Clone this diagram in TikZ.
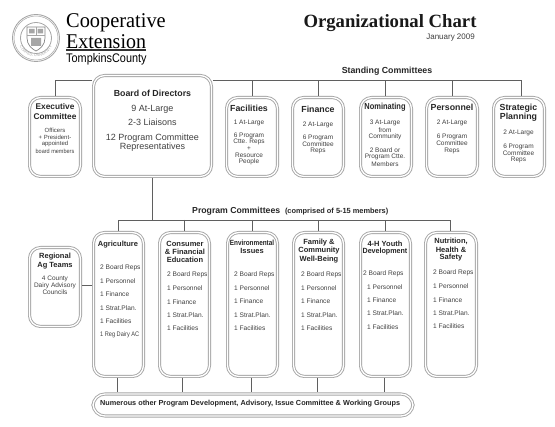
\documentclass[tikz,border=0pt]{standalone}
\usepackage{fontspec}
\usepackage{graphicx}
\setmainfont{Liberation Sans}
\newfontfamily\serifx{Liberation Serif}
\usetikzlibrary{decorations.text}
\definecolor{ln}{HTML}{5F5F5F}
\definecolor{bd}{HTML}{A6A6A6}
\definecolor{bodyc}{HTML}{404040}
\newcounter{tn}
\newcommand{\fs}[1]{\fontsize{#1}{#1}\selectfont}
\newcommand{\nar}[2]{\scalebox{#1}[1]{#2}}
\tikzset{
  cbox/.style={draw=bd,line width=0.9pt,double=white,double distance=1.3pt,rounded corners=#1,fill=white,inner sep=0pt,outer sep=1.55pt},
  cbox/.default=11pt,
  link/.style={draw=ln,line width=0.9pt},
  head/.style={font=\fs{8.8}\bfseries,text=black!85,inner sep=0pt},
  phead/.style={font=\fs{7.5}\bfseries,text=black!85,inner sep=0pt},
  sm/.style={font=\fs{6.5},text=bodyc,inner sep=0pt},
  smx/.style={font=\fs{6},text=bodyc,inner sep=0pt},
  li/.style={font=\fs{6.6},text=bodyc,inner sep=0pt,anchor=west},
  big/.style={font=\fs{9},text=bodyc,inner sep=0pt},
}
\newcommand{\T}[4]{\stepcounter{tn}\node[#3,name=t\arabic{tn}] at (#1,#2) {#4};}
\newcommand{\BOX}[5]{\node[cbox,minimum width=#4-#2-3.1,minimum height=#5-#3-3.1,name=#1] at ({(#2+#4)/2},{(#3+#5)/2}) {};}
\newcommand{\LI}[3]{\T{#1}{#2}{li}{#3}\T{#1}{#2+13.4}{li}{1 Personnel}\T{#1}{#2+26.8}{li}{1 Finance}\T{#1}{#2+40.2}{li}{1 Strat.Plan.}\T{#1}{#2+53.6}{li}{1 Facilities}}
\begin{document}
\begin{tikzpicture}[x=1pt,y=-1pt]
\useasboundingbox (0,0) rectangle (555,427);
\fill[white] (0,0) rectangle (555,427);
% seal
\node[circle,draw=bd,line width=0.9pt,minimum size=47pt,inner sep=0pt,name=seal] at (36,38) {};
\draw[bd,line width=0.5pt] (36,38) circle (22);
\draw[bd,line width=0.8pt] (36,38) circle (15.5);
\draw[bd!80!black,line width=0.7pt] (27,27) -- (45,27) -- (45,38) .. controls (45,45) and (40,49) .. (36,51) .. controls (32,49) and (27,45) .. (27,38) -- cycle;
\draw[bd,line width=0.5pt] (36,27) -- (36,35) (27,35) -- (45,35);
\fill[bd] (29,29) rectangle (34.5,33.5) (37.5,29) rectangle (43,33.5) (31,38) rectangle (41,46);
\path[decorate,decoration={text along path,text={|\fs{3.6}\color{bd}|CORNELL UNIVERSITY},text align=center}] (17.5,38) arc (180:360:18.5 and -18.5);
% logo text
\T{66}{22.5}{anchor=west,inner sep=0pt,text=black,font=\serifx\fs{21}}{\nar{.97}{Cooperative}}
\T{66}{41.5}{anchor=west,inner sep=0pt,text=black,font=\serifx\fs{21}}{\nar{.95}{Extension}}
\fill[black!80] (66,49.5) rectangle (146,51);
\T{66}{59}{anchor=west,inner sep=0pt,text=black,font=\fs{12.5}}{\nar{.87}{TompkinsCounty}}
\T{390}{23}{inner sep=0pt,text=black!90,font=\serifx\bfseries\fs{18.7}}{Organizational Chart}
\T{475}{37.5}{anchor=east,inner sep=0pt,text=bodyc,font=\fs{8}}{January 2009}
% boxes
\BOX{board}{92}{74}{213}{178}
\BOX{exec}{28}{96}{82}{178}
\BOX{fac}{225}{96}{279}{178}
\BOX{fin}{291}{96}{345}{178}
\BOX{nom}{359}{96}{413}{178}
\BOX{per}{425}{96}{479}{178}
\BOX{str}{492}{96}{546}{178}
\BOX{agr}{92}{231}{145}{378}
\BOX{con}{158}{231}{211}{378}
\BOX{env}{226}{231}{279}{378}
\BOX{fam}{292}{231}{345}{378}
\BOX{yth}{359}{231}{412}{378}
\BOX{nut}{424}{231}{478}{378}
\BOX{reg}{28}{246}{82}{328}
\node[cbox=12pt,minimum width=320pt,minimum height=22pt,name=num] at (253,405) {};
% connectors
\coordinate (tl) at (exec.north |- 0,80.5);
\coordinate (tr) at (521,80.5);
\coordinate (pj) at (board.south |- 0,220);
\coordinate (pl) at (agr.north |- 0,220);
\coordinate (pr) at (450,220);
\draw[link] (exec.north) -- (tl) -- (board.north west |- tl);
\draw[link] (board.north east |- tl) -- (tr) -- (521,96);
\foreach \x in {252,318,385,452} \draw[link] (\x,80.5) -- (\x,96);
\draw[link] (board.south) -- (pj);
\draw[link] (agr.north) -- (pl) -- (pr) -- (450,231);
\foreach \x in {184.5,252,318,385} \draw[link] (\x,220) -- (\x,231);
\draw[link] (reg.east |- 0,285) -- (agr.west |- 0,285);
\foreach \x in {117,182,251,317,384} \draw[link] (\x,378) -- (\x,392.5);
% board text
\T{152.5}{93}{font=\fs{8.8}\bfseries,text=black!85,inner sep=0pt}{Board of Directors}
\T{152.5}{109}{big}{9 At-Large}
\T{152.5}{122}{big}{2-3 Liaisons}
\T{152.5}{138}{big}{12 Program Committee}
\T{152.5}{147.5}{big}{Representatives}
\T{55}{107}{font=\fs{8.3}\bfseries,text=black!85,inner sep=0pt}{Executive}
\T{55}{116.5}{font=\fs{8.3}\bfseries,text=black!85,inner sep=0pt}{Committee}
\T{55}{130.5}{smx}{Officers}
\T{55}{137.5}{smx}{+ President-}
\T{55}{144}{smx}{appointed}
\T{55}{151}{smx}{\nar{.92}{board members}}
\T{249}{108}{head}{Facilities}
\T{249}{122.5}{sm}{1 At-Large}
\T{249}{135.5}{sm}{6 Program}
\T{249}{142}{sm}{Ctte. Reps}
\T{249}{148.5}{sm}{+}
\T{249}{155.5}{sm}{Resource}
\T{249}{162}{sm}{People}
\T{318}{109}{head}{Finance}
\T{318}{124.5}{sm}{2 At-Large}
\T{318}{138}{sm}{6 Program}
\T{318}{144.5}{sm}{Committee}
\T{318}{151}{sm}{Reps}
\T{385}{107.5}{head}{\nar{.85}{Nominating}}
\T{385}{123}{sm}{3 At-Large}
\T{385}{130}{sm}{from}
\T{385}{137}{sm}{Community}
\T{385}{150.5}{sm}{2 Board or}
\T{385}{157}{sm}{Program Ctte.}
\T{385}{164}{sm}{Members}
\T{452}{107.5}{head}{Personnel}
\T{452}{123}{sm}{2 At-Large}
\T{452}{137}{sm}{6 Program}
\T{452}{143.5}{sm}{Committee}
\T{452}{150.5}{sm}{Reps}
\T{518.5}{108}{head}{Strategic}
\T{518.5}{117}{head}{Planning}
\T{518.5}{132.5}{sm}{2 At-Large}
\T{518.5}{146.5}{sm}{6 Program}
\T{518.5}{153}{sm}{Committee}
\T{518.5}{160}{sm}{Reps}
\T{387}{71}{font=\fs{8.8}\bfseries,text=black!85,inner sep=0pt}{Standing Committees}
\T{192}{211}{anchor=west,font=\fs{8.7}\bfseries,text=black!85,inner sep=0pt}{Program Committees\ \ {\fs{7.4}(comprised of 5-15 members)}}
% program committees
\T{118}{244.5}{phead}{Agriculture}
\LI{100}{267.5}{2 Board Reps}
\T{100}{334.5}{li}{\nar{.85}{1 Reg Dairy AC}}
\T{185}{243.5}{phead}{Consumer}
\T{185}{252}{phead}{\& Financial}
\T{185}{260}{phead}{Education}
\LI{167}{275}{2 Board Reps}
\T{252}{243}{phead}{\nar{.85}{Environmental}}
\T{252}{251}{phead}{Issues}
\LI{234}{274.5}{2 Board Reps}
\T{319}{243}{phead}{Family \&}
\T{319}{251}{phead}{Community}
\T{319}{259.5}{phead}{Well-Being}
\LI{301}{274.5}{2 Board Reps}
\T{385}{244}{phead}{4-H Youth}
\T{385}{252}{phead}{\nar{.95}{Development}}
\T{363}{273.5}{li}{2 Board Reps}
\T{367}{287}{li}{1 Personnel}
\T{367}{300.3}{li}{1 Finance}
\T{367}{313.6}{li}{1 Strat.Plan.}
\T{367}{327}{li}{1 Facilities}
\T{451}{241.5}{phead}{Nutrition,}
\T{451}{250}{phead}{Health \&}
\T{451}{258}{phead}{Safety}
\LI{433}{273}{2 Board Reps}
\T{55}{257}{phead}{Regional}
\T{55}{265.5}{phead}{Ag Teams}
\T{55}{279}{sm}{4 County}
\T{55}{285.5}{sm}{Dairy Advisory}
\T{55}{292}{sm}{Councils}
\T{100}{403.5}{anchor=west,font=\fs{7.3}\bfseries,text=black!85,inner sep=0pt}{Numerous other Program Development, Advisory, Issue Committee \& Working Groups}
\end{tikzpicture}
\end{document}
